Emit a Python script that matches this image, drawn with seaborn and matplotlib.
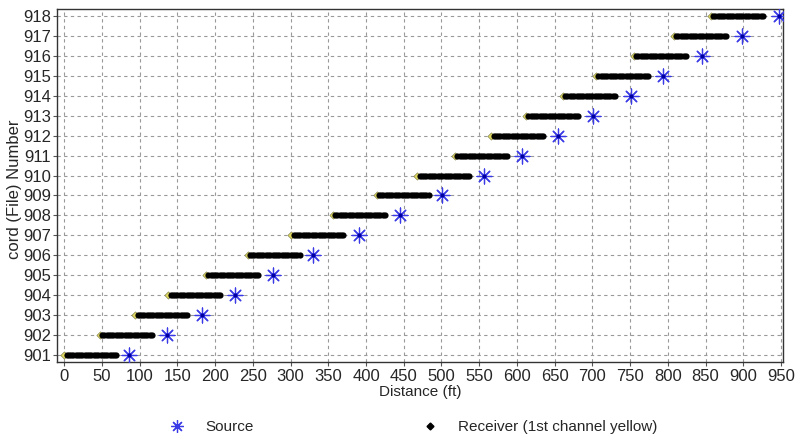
import matplotlib
matplotlib.use("Agg")
import matplotlib.pyplot as plt
from matplotlib.lines import Line2D
import pandas as pd
import seaborn as sns

# record (file) numbers, one row per shot
records = [901, 902, 903, 904, 905, 906, 907, 908, 909,
           910, 911, 912, 913, 914, 915, 916, 917, 918]
# source position for each record (ft)
source_ft = [86, 136, 183, 226, 277, 330, 390, 445, 501,
             556, 607, 655, 701, 751, 793, 845, 899, 948]
# position of the first receiver (channel 1) for each record (ft)
first_rx_ft = [0, 47, 94, 138, 188, 243, 301, 356, 414,
               468, 518, 566, 612, 661, 705, 755, 808, 857]
# receiver offsets from channel 1 (24 channels, 3 ft spacing)
channel_offsets = [0, 3, 6, 9, 12, 15, 18, 21, 24, 27, 30, 33,
                   36, 39, 42, 45, 48, 51, 54, 57, 60, 63, 66, 69]

x_ticks = [0, 50, 100, 150, 200, 250, 300, 350, 400, 450,
           500, 550, 600, 650, 700, 750, 800, 850, 900, 950]

rows = []
for rec, start in zip(records, first_rx_ft):
    for ch, off in enumerate(channel_offsets):
        rows.append({"record": rec, "dist": start + off, "first": ch == 0})
rx = pd.DataFrame(rows)
src = pd.DataFrame({"record": records, "dist": source_ft})

sns.set_style("whitegrid")
plt.rcParams["font.family"] = ["Liberation Sans", "DejaVu Sans"]

fig = plt.figure(figsize=(8, 4.47), dpi=100)
ax = fig.add_axes([0.071, 0.190, 0.908, 0.790])

# first channel drawn underneath so only its left tip shows yellow
sns.scatterplot(data=rx[rx["first"]], x="dist", y="record", marker="D",
                color="#e0d860", s=14, linewidth=0.4, edgecolor="#707040",
                ax=ax, zorder=3)
sns.scatterplot(data=rx[~rx["first"]], x="dist", y="record", marker="o",
                color="black", s=20, linewidth=0, ax=ax, zorder=4)
sns.scatterplot(data=src, x="dist", y="record", marker=(8, 2, 0),
                color="#3a3ae6", s=115, linewidth=0.9, ax=ax, zorder=5)
sns.scatterplot(data=src, x="dist", y="record", marker="o",
                color="#0000a0", s=8, linewidth=0, ax=ax, zorder=6)

ax.set_xlim(-10, 953)
ax.set_ylim(900.65, 918.35)
ax.set_xticks(x_ticks)
ax.set_yticks(records)
ax.tick_params(axis="both", labelsize=12, length=3, width=0.8,
               color="#555555", direction="out", pad=1)
ax.tick_params(axis="y", left=True)
ax.tick_params(axis="x", bottom=True, pad=2)
ax.grid(True, linestyle=(0, (3, 3)), color="#999999", linewidth=0.8)
for sp in ax.spines.values():
    sp.set_color("#333333")
    sp.set_linewidth(1.0)

ax.set_xlabel("Distance (ft)", fontsize=11, labelpad=1)
ax.set_ylabel("cord (File) Number", fontsize=12)
ax.yaxis.set_label_coords(-0.048, 0.49)

handles = [
    Line2D([], [], linestyle="none", marker=(8, 2, 0), color="#3a3ae6",
           markersize=9, markeredgewidth=0.9),
    Line2D([], [], linestyle="none", marker="D", color="black",
           markersize=3.5),
]
fig.legend(handles, ["Source", "Receiver (1st channel yellow)"],
           loc="center", bbox_to_anchor=(0.512, 0.045), ncol=2,
           frameon=False, fontsize=11, columnspacing=10.5,
           handlelength=2, handletextpad=0.85)

fig.savefig("out.png", dpi=100)
